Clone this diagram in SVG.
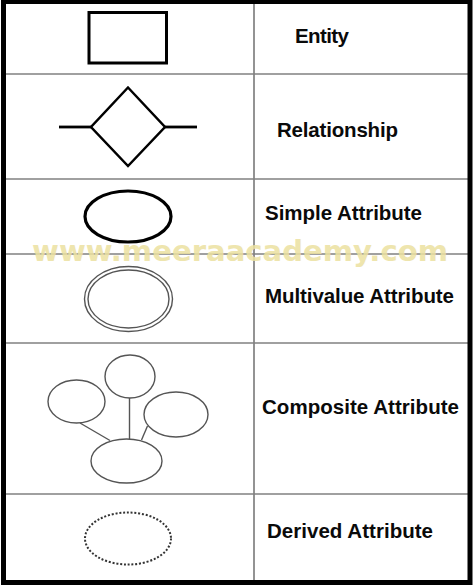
<svg xmlns="http://www.w3.org/2000/svg" width="474" height="587" viewBox="0 0 474 587">
<style>
.grid{stroke:#808080;stroke-width:1.7;fill:none}
.lbl{font-family:"Liberation Sans",Arial,sans-serif;font-weight:bold;font-size:20.5px;fill:#0a0a0a}
.thin{fill:none;stroke:#555;stroke-width:1.4}
.wm{font-family:"DejaVu Sans",Verdana,sans-serif;font-weight:bold;font-size:28px;fill:#ece1a0;opacity:0.85}
</style>
<rect x="0" y="0" width="474" height="587" fill="#fff"/>
<g id="grid-lines">
<line class="grid" x1="4" y1="74" x2="470" y2="74"/>
<line class="grid" x1="4" y1="179" x2="470" y2="179"/>
<line class="grid" x1="4" y1="254" x2="470" y2="254"/>
<line class="grid" x1="4" y1="343" x2="470" y2="343"/>
<line class="grid" x1="4" y1="494" x2="470" y2="494"/>
<line class="grid" x1="254" y1="2" x2="254" y2="582"/>
</g>
<g id="entity">
<rect x="89" y="12.5" width="77.5" height="50.5" fill="none" stroke="#000" stroke-width="3"/>
<text class="lbl" x="295" y="43" textLength="54">Entity</text>
</g>
<g id="relationship">
<polygon points="128,87.5 165,127 128,166 91,127" fill="none" stroke="#000" stroke-width="2.5"/>
<line x1="59" y1="127" x2="91" y2="127" stroke="#000" stroke-width="2.8"/>
<line x1="165" y1="127" x2="197" y2="127" stroke="#000" stroke-width="2.8"/>
<text class="lbl" x="277" y="136.5" textLength="121">Relationship</text>
</g>
<g id="simple-attribute">
<ellipse cx="128" cy="216.5" rx="43" ry="25.5" fill="none" stroke="#000" stroke-width="3.2"/>
<text class="lbl" x="265" y="220" textLength="157">Simple Attribute</text>
</g>
<g id="multivalue-attribute">
<ellipse class="thin" cx="128.5" cy="299" rx="44" ry="32.5" stroke="#777"/>
<ellipse class="thin" cx="128.5" cy="299" rx="40.5" ry="29" stroke="#777"/>
<text class="lbl" x="265" y="303" textLength="189">Multivalue Attribute</text>
</g>
<g id="composite-attribute">
<g id="composite-connectors">
<line class="thin" x1="129.5" y1="398" x2="129.5" y2="439.5"/>
<line class="thin" x1="80" y1="423" x2="110" y2="440.5"/>
<line class="thin" x1="147.5" y1="426" x2="141.5" y2="440"/>
</g>
<ellipse class="thin" cx="130" cy="376.5" rx="25" ry="21.5"/>
<ellipse class="thin" cx="76.5" cy="401.5" rx="28.5" ry="21.5"/>
<ellipse class="thin" cx="176" cy="414.5" rx="32" ry="22.5"/>
<ellipse class="thin" cx="126.5" cy="461" rx="35.5" ry="22"/>
<text class="lbl" x="262" y="414" textLength="197">Composite Attribute</text>
</g>
<g id="derived-attribute">
<ellipse cx="128" cy="538.5" rx="43" ry="26" fill="none" stroke="#333" stroke-width="2" stroke-dasharray="2 1.8"/>
<text class="lbl" x="267" y="538" textLength="166">Derived Attribute</text>
</g>
<text class="wm" x="32" y="261" textLength="416" lengthAdjust="spacingAndGlyphs">www.meeraacademy.com</text>
<rect x="3.5" y="1.5" width="466.5" height="581" fill="none" stroke="#000" stroke-width="5"/>
</svg>
